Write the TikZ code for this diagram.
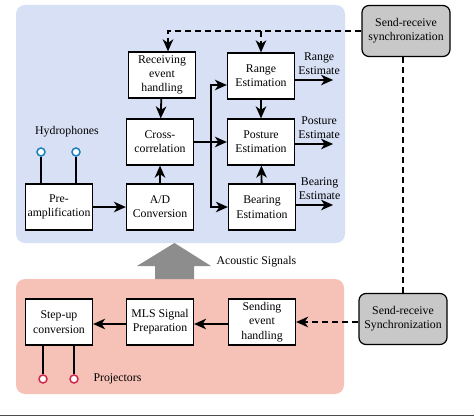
\documentclass[tikz,border=0pt]{standalone}
\usepackage{fontspec}
\setmainfont{Liberation Serif}
\usepackage{xcolor}
\usetikzlibrary{positioning,calc,arrows.meta}

\definecolor{rxblue}{RGB}{215,224,244}
\definecolor{txred}{RGB}{246,193,183}
\definecolor{syncgray}{RGB}{200,200,200}
\definecolor{bigarrow}{RGB}{141,141,141}
\definecolor{hydroblue}{RGB}{28,128,190}
\definecolor{projred}{RGB}{212,40,72}

\begin{document}
\begin{tikzpicture}[
    x=1pt, y=-1pt,
    font=\fontsize{11.8}{14.3}\selectfont,
    block/.style={draw, rectangle, line width=1.2pt, fill=white, minimum width=67pt, minimum height=46pt, align=center, inner sep=1pt},
    sync/.style={draw, rectangle, rounded corners=7pt, line width=1.2pt, fill=syncgray, minimum width=88pt, minimum height=51pt, align=center, inner sep=1pt},
    flow/.style={-{Stealth[length=12pt,width=10.5pt,inset=3.5pt]}, line width=1.8pt},
    dflow/.style={flow, dash pattern=on 6pt off 4pt},
    dline/.style={line width=1.8pt, dash pattern=on 6pt off 4pt},
    wire/.style={line width=1.8pt},
    hydro/.style={draw=hydroblue, circle, line width=1.5pt, fill=white, inner sep=0pt, minimum size=8pt},
    proj/.style={draw=projred, circle, line width=1.5pt, fill=white, inner sep=0pt, minimum size=8pt}
]
    \useasboundingbox (0,0) rectangle (474,420);

    % Regions
    \fill [rxblue, rounded corners=9pt] (16,5) rectangle (345,243);
    \fill [txred, rounded corners=9pt] (16,279) rectangle (344,394);
    \draw [gray!60!black, line width=0.8pt] (0,415) -- (474,415);

    % Receiving side
    \node [block] (recv) at (162,75) {Receiving\\event\\handling};
    \node [block] (xcorr) at (160,142) {Cross-\\correlation};
    \node [block] (adc) at (160,207) {A/D\\Conversion};
    \node [block] (preamp) at (59,207) {Pre-\\amplification};
    \node [block] (range) at (261,76) {Range\\Estimation};
    \node [block] (posture) at (261,142) {Posture\\Estimation};
    \node [block] (bearing) at (262,207) {Bearing\\Estimation};

    % Sending side
    \node [block] (sending) at (262,322) {Sending\\event\\handling};
    \node [block] (mls) at (160,322) {MLS Signal\\Preparation};
    \node [block] (stepup) at (59,322) {Step-up\\conversion};

    % Synchronization
    \node [sync] (synctop) at (406,31) {Send-receive\\synchronization};
    \node [sync] (syncbot) at (403,319) {Send-receive\\Synchronization};

    % Hydrophones and projectors
    \node (hydlabel) at (67,132) {Hydrophones};
    \foreach \i/\hx in {1/41, 2/76} {
        \node [hydro] (hyd\i) at (\hx,152) {};
        \draw [wire] (hyd\i) -- (hyd\i |- preamp.north);
    }
    \foreach \i/\px in {1/43, 2/74} {
        \node [proj] (proj\i) at (\px,379) {};
        \draw [wire] (proj\i) -- (proj\i |- stepup.south);
    }
    \node [anchor=west] (projlabel) at (90,379) {Projectors};

    % Receiving chain
    \draw [flow] (preamp) -- (adc);
    \draw [flow] (adc) -- (xcorr);
    \draw [flow] (recv) -- (xcorr);
    \coordinate (split) at (211,142);
    \draw [flow] (xcorr) -- (posture);
    \draw [flow] (split) |- ([yshift=-9pt]range.west);
    \draw [flow] (split) |- (bearing.west);
    \draw [flow] (range) -- (posture);
    \draw [flow] (bearing) -- (posture);

    % Estimates
    \draw [flow] ([yshift=-4pt]range.east) -- +(38,0) node [midway, above=1pt, align=center, xshift=5pt] (rangeout) {Range\\Estimate};
    \draw [flow] ([yshift=-2pt]posture.east) -- +(38,0) node [midway, above=1pt, align=center, xshift=5pt] (postureout) {Posture\\Estimate};
    \draw [flow] ([yshift=2pt]bearing.east) -- +(37,0) node [midway, above=1pt, align=center, xshift=5pt] (bearingout) {Bearing\\Estimate};

    % Sending chain
    \draw [flow] ([yshift=-2pt]sending.west) -- ([yshift=-2pt]mls.east);
    \draw [flow] ([yshift=-2pt]mls.west) -- ([yshift=-2pt]stepup.east);

    % Synchronization links
    \draw [dflow] (synctop.west) -| ([xshift=6pt]recv.north);
    \draw [dflow] (synctop.west -| range.north) -- (range.north);
    \draw [dline] (synctop.south -| syncbot.north) -- (syncbot.north);
    \draw [dflow] (syncbot.west |- sending.east) -- (sending.east);

    % Acoustic signals
    \fill [bigarrow] (155,279) -- (155,266) -- (137,266) -- (174.5,243) -- (211,266) -- (194,266) -- (194,279) -- cycle;
    \node [anchor=west] (acoustic) at (213,262) {Acoustic Signals};
\end{tikzpicture}
\end{document}
